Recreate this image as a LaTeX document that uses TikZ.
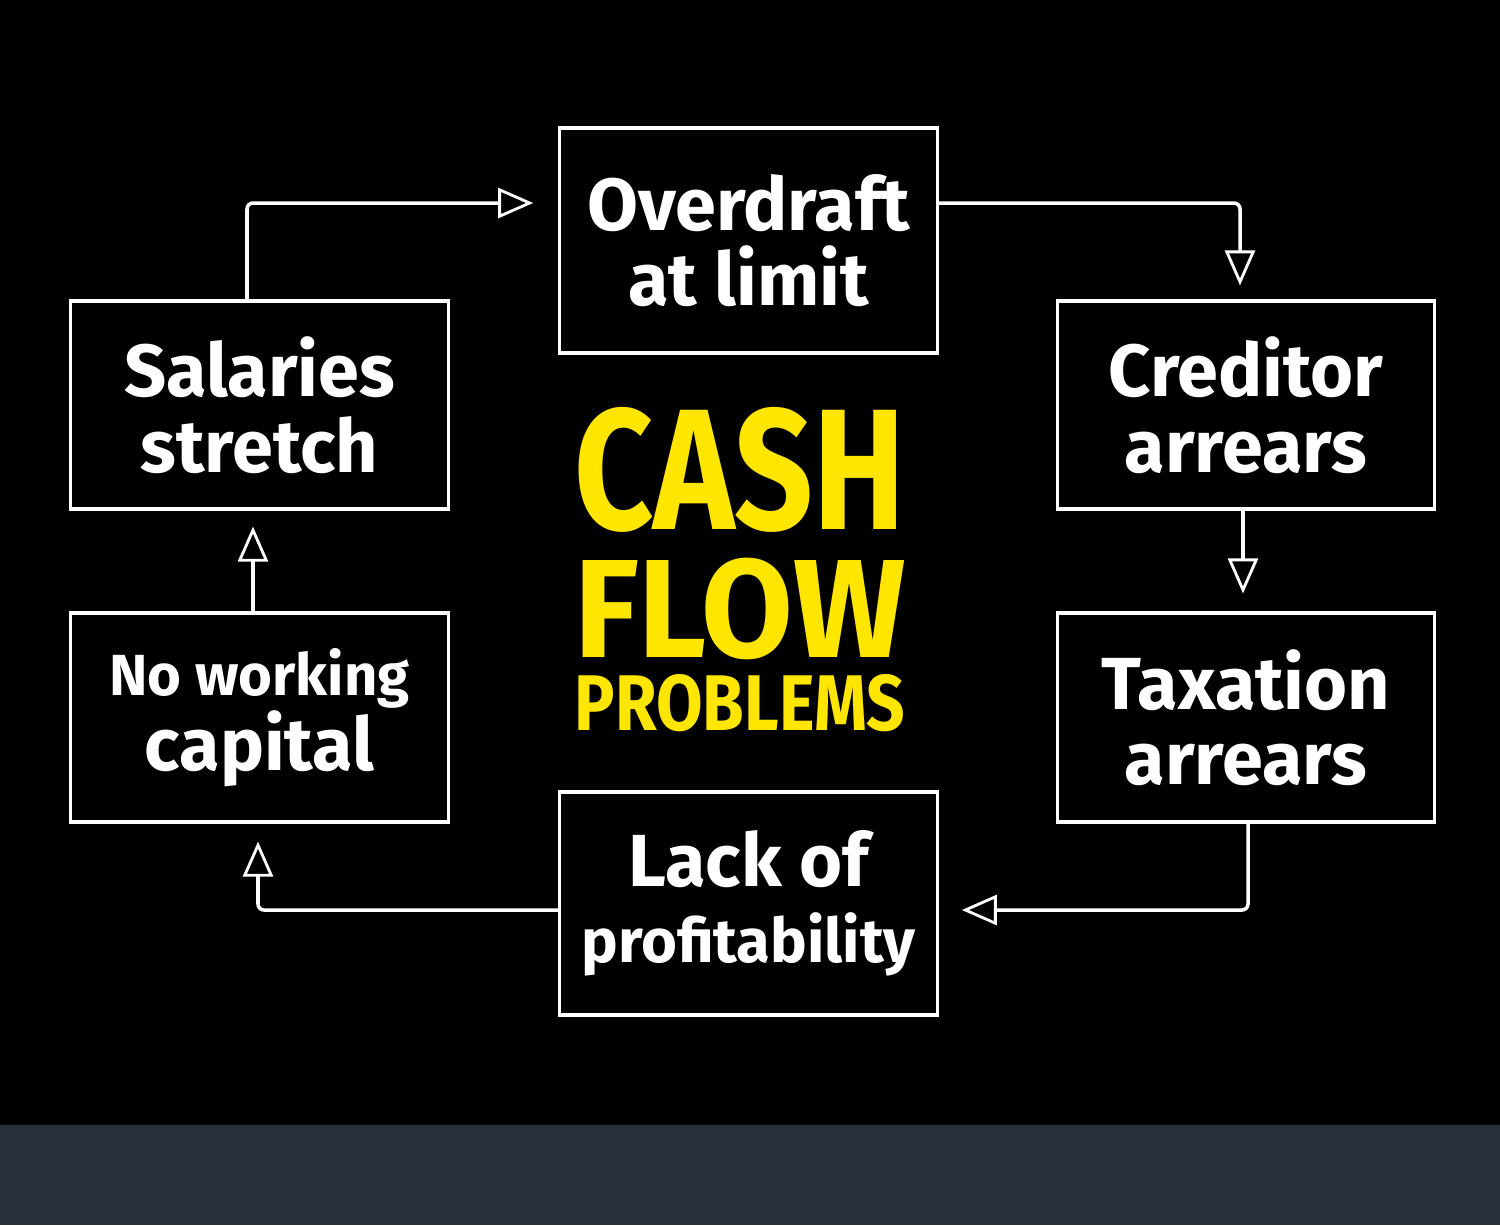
\documentclass[tikz,border=0pt]{standalone}
\usepackage{fontspec}
\setmainfont{Fira Sans}
\usetikzlibrary{arrows.meta,calc}
\definecolor{barcol}{HTML}{2A303A}
\definecolor{cashyellow}{HTML}{FFE600}
\begin{document}
\begin{tikzpicture}[x=0.02cm,y=-0.02cm,
  box/.style={draw=white, line width=1.8pt, text=white, align=center, inner sep=0pt,
    minimum width=7.55cm, font=\fontsize{42}{43}\selectfont\bfseries},
  arr/.style={draw=white, line width=2pt, rounded corners=0.12cm,
    -{Triangle[open, length=0.7cm, width=0.6cm, line width=1.6pt]}},
  ttl/.style={text=cashyellow, inner sep=0pt, font=\fontsize{1}{1}\selectfont\bfseries}]
\fill[black] (0,0) rectangle (1500,1225);
\fill[barcol] (0,1125) rectangle (1500,1225);
\useasboundingbox (0,0) rectangle (1500,1225);

\node[box, minimum height=4.5cm] (od) at (748.5,240.5) {Overdraft\\at limit};
\node[box, minimum height=4.16cm] (sal) at (259.5,405) {Salaries\\stretch};
\node[box, minimum height=4.16cm] (cre) at (1246,405) {Creditor\\arrears};
\node[box, minimum height=4.18cm] (now) at (259.5,717.5) {{\fontsize{33}{36}\selectfont No working}\\capital};
\node[box, minimum height=4.18cm] (tax) at (1246,717.5) {Taxation\\arrears};
\node[box, minimum height=4.46cm] (lack) at (748.5,903.5) {Lack of\\{\fontsize{35}{43}\selectfont profitability}};

\node[ttl] (title) at (740,569.5) {\begin{tabular}{@{}c@{}}
  \resizebox{6.6cm}{2.42cm}{CASH}\\[0.55cm]
  \resizebox{6.6cm}{1.98cm}{FLOW}\\[0.33cm]
  \resizebox{6.6cm}{1.12cm}{PROBLEMS}
\end{tabular}};

\coordinate (a1) at (247,203);
\coordinate (a2) at (1240,203);
\coordinate (a3) at (1243,560);
\coordinate (a4) at (1248,910);
\coordinate (a5) at (258,910);
\coordinate (a6) at (253,560);

\draw[arr, shorten >=0.5cm] (a1 |- sal.north) -- (a1) -- (a1 -| od.west);
\draw[arr, shorten >=0.28cm] (a2 -| od.east) -- (a2) -- (a2 |- cre.north);
\draw[arr, shorten >=0.36cm] (a3 |- cre.south) -- (a3 |- tax.north);
\draw[arr, shorten >=0.46cm] (a4 |- tax.south) -- (a4) -- (a4 -| lack.east);
\draw[arr, shorten >=0.36cm] (a5 -| lack.west) -- (a5) -- (a5 |- now.south);
\draw[arr, shorten >=0.32cm] (a6 |- now.north) -- (a6 |- sal.south);
\end{tikzpicture}
\end{document}
